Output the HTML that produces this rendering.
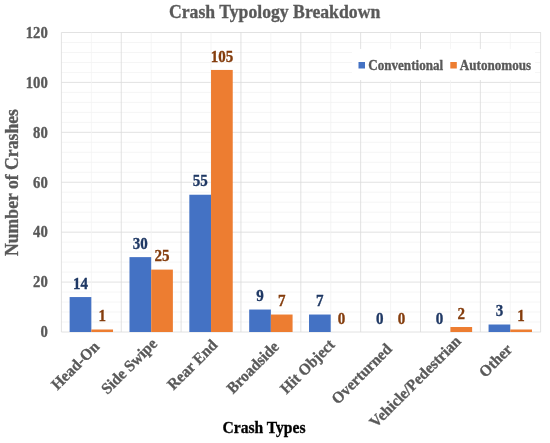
<!DOCTYPE html>
<html><head><meta charset="utf-8"><title>Crash Typology Breakdown</title>
<style>html,body{margin:0;padding:0;background:#fff}svg{display:block}</style></head>
<body>
<svg width="550" height="443" viewBox="0 0 550 443" font-family="'Liberation Serif', serif" font-weight="bold" stroke-width="0.3">
<rect width="550" height="443" fill="#fff"/>
<line x1="61.4" x2="540.9" y1="332.00" y2="332.00" stroke="#dbdbdb" stroke-width="0.8"/>
<line x1="61.4" x2="540.9" y1="322.02" y2="322.02" stroke="#f2f2f2" stroke-width="0.8"/>
<line x1="61.4" x2="540.9" y1="312.03" y2="312.03" stroke="#f2f2f2" stroke-width="0.8"/>
<line x1="61.4" x2="540.9" y1="302.05" y2="302.05" stroke="#f2f2f2" stroke-width="0.8"/>
<line x1="61.4" x2="540.9" y1="292.07" y2="292.07" stroke="#f2f2f2" stroke-width="0.8"/>
<line x1="61.4" x2="540.9" y1="282.08" y2="282.08" stroke="#dbdbdb" stroke-width="0.8"/>
<line x1="61.4" x2="540.9" y1="272.10" y2="272.10" stroke="#f2f2f2" stroke-width="0.8"/>
<line x1="61.4" x2="540.9" y1="262.12" y2="262.12" stroke="#f2f2f2" stroke-width="0.8"/>
<line x1="61.4" x2="540.9" y1="252.13" y2="252.13" stroke="#f2f2f2" stroke-width="0.8"/>
<line x1="61.4" x2="540.9" y1="242.15" y2="242.15" stroke="#f2f2f2" stroke-width="0.8"/>
<line x1="61.4" x2="540.9" y1="232.17" y2="232.17" stroke="#dbdbdb" stroke-width="0.8"/>
<line x1="61.4" x2="540.9" y1="222.18" y2="222.18" stroke="#f2f2f2" stroke-width="0.8"/>
<line x1="61.4" x2="540.9" y1="212.20" y2="212.20" stroke="#f2f2f2" stroke-width="0.8"/>
<line x1="61.4" x2="540.9" y1="202.22" y2="202.22" stroke="#f2f2f2" stroke-width="0.8"/>
<line x1="61.4" x2="540.9" y1="192.23" y2="192.23" stroke="#f2f2f2" stroke-width="0.8"/>
<line x1="61.4" x2="540.9" y1="182.25" y2="182.25" stroke="#dbdbdb" stroke-width="0.8"/>
<line x1="61.4" x2="540.9" y1="172.27" y2="172.27" stroke="#f2f2f2" stroke-width="0.8"/>
<line x1="61.4" x2="540.9" y1="162.28" y2="162.28" stroke="#f2f2f2" stroke-width="0.8"/>
<line x1="61.4" x2="540.9" y1="152.30" y2="152.30" stroke="#f2f2f2" stroke-width="0.8"/>
<line x1="61.4" x2="540.9" y1="142.32" y2="142.32" stroke="#f2f2f2" stroke-width="0.8"/>
<line x1="61.4" x2="540.9" y1="132.33" y2="132.33" stroke="#dbdbdb" stroke-width="0.8"/>
<line x1="61.4" x2="540.9" y1="122.35" y2="122.35" stroke="#f2f2f2" stroke-width="0.8"/>
<line x1="61.4" x2="540.9" y1="112.37" y2="112.37" stroke="#f2f2f2" stroke-width="0.8"/>
<line x1="61.4" x2="540.9" y1="102.38" y2="102.38" stroke="#f2f2f2" stroke-width="0.8"/>
<line x1="61.4" x2="540.9" y1="92.40" y2="92.40" stroke="#f2f2f2" stroke-width="0.8"/>
<line x1="61.4" x2="540.9" y1="82.42" y2="82.42" stroke="#dbdbdb" stroke-width="0.8"/>
<line x1="61.4" x2="540.9" y1="72.43" y2="72.43" stroke="#f2f2f2" stroke-width="0.8"/>
<line x1="61.4" x2="540.9" y1="62.45" y2="62.45" stroke="#f2f2f2" stroke-width="0.8"/>
<line x1="61.4" x2="540.9" y1="52.47" y2="52.47" stroke="#f2f2f2" stroke-width="0.8"/>
<line x1="61.4" x2="540.9" y1="42.48" y2="42.48" stroke="#f2f2f2" stroke-width="0.8"/>
<line x1="61.4" x2="540.9" y1="32.50" y2="32.50" stroke="#dbdbdb" stroke-width="0.8"/>
<line y1="32.5" y2="332.0" x1="61.40" x2="61.40" stroke="#dbdbdb" stroke-width="0.8"/>
<line y1="32.5" y2="332.0" x1="91.33" x2="91.33" stroke="#f2f2f2" stroke-width="0.8"/>
<line y1="32.5" y2="332.0" x1="121.25" x2="121.25" stroke="#dbdbdb" stroke-width="0.8"/>
<line y1="32.5" y2="332.0" x1="151.18" x2="151.18" stroke="#f2f2f2" stroke-width="0.8"/>
<line y1="32.5" y2="332.0" x1="181.10" x2="181.10" stroke="#dbdbdb" stroke-width="0.8"/>
<line y1="32.5" y2="332.0" x1="211.03" x2="211.03" stroke="#f2f2f2" stroke-width="0.8"/>
<line y1="32.5" y2="332.0" x1="240.95" x2="240.95" stroke="#dbdbdb" stroke-width="0.8"/>
<line y1="32.5" y2="332.0" x1="270.88" x2="270.88" stroke="#f2f2f2" stroke-width="0.8"/>
<line y1="32.5" y2="332.0" x1="300.80" x2="300.80" stroke="#dbdbdb" stroke-width="0.8"/>
<line y1="32.5" y2="332.0" x1="330.72" x2="330.72" stroke="#f2f2f2" stroke-width="0.8"/>
<line y1="32.5" y2="332.0" x1="360.65" x2="360.65" stroke="#dbdbdb" stroke-width="0.8"/>
<line y1="32.5" y2="332.0" x1="390.57" x2="390.57" stroke="#f2f2f2" stroke-width="0.8"/>
<line y1="32.5" y2="332.0" x1="420.50" x2="420.50" stroke="#dbdbdb" stroke-width="0.8"/>
<line y1="32.5" y2="332.0" x1="450.43" x2="450.43" stroke="#f2f2f2" stroke-width="0.8"/>
<line y1="32.5" y2="332.0" x1="480.35" x2="480.35" stroke="#dbdbdb" stroke-width="0.8"/>
<line y1="32.5" y2="332.0" x1="510.27" x2="510.27" stroke="#f2f2f2" stroke-width="0.8"/>
<line y1="32.5" y2="332.0" x1="540.60" x2="540.60" stroke="#dbdbdb" stroke-width="0.8"/>
<rect x="352" y="49" width="183" height="31" fill="#fff"/>
<rect x="69.62" y="297.06" width="21.7" height="34.94" fill="#4472c4"/>
<text transform="translate(80.48,288.76) scale(1.0,1.08)" font-size="15.0" fill="#1f3864" stroke="#1f3864" text-anchor="middle">14</text>
<rect x="91.33" y="329.50" width="21.7" height="2.50" fill="#ed7d31"/>
<text transform="translate(102.17,321.20) scale(1.0,1.08)" font-size="15.0" fill="#843c0c" stroke="#843c0c" text-anchor="middle">1</text>
<rect x="129.48" y="257.12" width="21.7" height="74.88" fill="#4472c4"/>
<text transform="translate(140.33,248.82) scale(1.0,1.08)" font-size="15.0" fill="#1f3864" stroke="#1f3864" text-anchor="middle">30</text>
<rect x="151.18" y="269.60" width="21.7" height="62.40" fill="#ed7d31"/>
<text transform="translate(162.03,261.30) scale(1.0,1.08)" font-size="15.0" fill="#843c0c" stroke="#843c0c" text-anchor="middle">25</text>
<rect x="189.33" y="194.73" width="21.7" height="137.27" fill="#4472c4"/>
<text transform="translate(200.18,186.43) scale(1.0,1.08)" font-size="15.0" fill="#1f3864" stroke="#1f3864" text-anchor="middle">55</text>
<rect x="211.03" y="69.94" width="21.7" height="262.06" fill="#ed7d31"/>
<text transform="translate(221.88,61.64) scale(1.0,1.08)" font-size="15.0" fill="#843c0c" stroke="#843c0c" text-anchor="middle">105</text>
<rect x="249.18" y="309.54" width="21.7" height="22.46" fill="#4472c4"/>
<text transform="translate(260.02,301.24) scale(1.0,1.08)" font-size="15.0" fill="#1f3864" stroke="#1f3864" text-anchor="middle">9</text>
<rect x="270.88" y="314.53" width="21.7" height="17.47" fill="#ed7d31"/>
<text transform="translate(281.73,306.23) scale(1.0,1.08)" font-size="15.0" fill="#843c0c" stroke="#843c0c" text-anchor="middle">7</text>
<rect x="309.02" y="314.53" width="21.7" height="17.47" fill="#4472c4"/>
<text transform="translate(319.87,306.23) scale(1.0,1.08)" font-size="15.0" fill="#1f3864" stroke="#1f3864" text-anchor="middle">7</text>
<text transform="translate(341.57,323.70) scale(1.0,1.08)" font-size="15.0" fill="#843c0c" stroke="#843c0c" text-anchor="middle">0</text>
<text transform="translate(379.72,323.70) scale(1.0,1.08)" font-size="15.0" fill="#1f3864" stroke="#1f3864" text-anchor="middle">0</text>
<text transform="translate(401.43,323.70) scale(1.0,1.08)" font-size="15.0" fill="#843c0c" stroke="#843c0c" text-anchor="middle">0</text>
<text transform="translate(439.57,323.70) scale(1.0,1.08)" font-size="15.0" fill="#1f3864" stroke="#1f3864" text-anchor="middle">0</text>
<rect x="450.43" y="327.01" width="21.7" height="4.99" fill="#ed7d31"/>
<text transform="translate(461.28,318.71) scale(1.0,1.08)" font-size="15.0" fill="#843c0c" stroke="#843c0c" text-anchor="middle">2</text>
<rect x="488.57" y="324.51" width="21.7" height="7.49" fill="#4472c4"/>
<text transform="translate(499.42,316.21) scale(1.0,1.08)" font-size="15.0" fill="#1f3864" stroke="#1f3864" text-anchor="middle">3</text>
<rect x="510.27" y="329.50" width="21.7" height="2.50" fill="#ed7d31"/>
<text transform="translate(521.12,321.20) scale(1.0,1.08)" font-size="15.0" fill="#843c0c" stroke="#843c0c" text-anchor="middle">1</text>
<text transform="translate(47.80,337.25) scale(1.0,1.08)" font-size="14.7" fill="#595959" stroke="#595959" text-anchor="end">0</text>
<text transform="translate(47.80,287.33) scale(1.0,1.08)" font-size="14.7" fill="#595959" stroke="#595959" text-anchor="end">20</text>
<text transform="translate(47.80,237.42) scale(1.0,1.08)" font-size="14.7" fill="#595959" stroke="#595959" text-anchor="end">40</text>
<text transform="translate(47.80,187.50) scale(1.0,1.08)" font-size="14.7" fill="#595959" stroke="#595959" text-anchor="end">60</text>
<text transform="translate(47.80,137.58) scale(1.0,1.08)" font-size="14.7" fill="#595959" stroke="#595959" text-anchor="end">80</text>
<text transform="translate(47.80,87.67) scale(1.0,1.08)" font-size="14.7" fill="#595959" stroke="#595959" text-anchor="end">100</text>
<text transform="translate(47.80,37.75) scale(1.0,1.08)" font-size="14.7" fill="#595959" stroke="#595959" text-anchor="end">120</text>
<text transform="translate(100.33,347.80) rotate(-45) scale(1.0,1.03)" font-size="15.4" fill="#595959" stroke="#595959" text-anchor="end">Head-On</text>
<text transform="translate(157.98,344.60) rotate(-45) scale(1.0,1.03)" font-size="15.4" fill="#595959" stroke="#595959" text-anchor="end">Side Swipe</text>
<text transform="translate(218.33,346.00) rotate(-45) scale(1.0,1.03)" font-size="15.4" fill="#595959" stroke="#595959" text-anchor="end">Rear End</text>
<text transform="translate(279.88,347.60) rotate(-45) scale(1.0,1.03)" font-size="15.4" fill="#595959" stroke="#595959" text-anchor="end">Broadside</text>
<text transform="translate(335.72,345.50) rotate(-45) scale(1.0,1.03)" font-size="15.4" fill="#595959" stroke="#595959" text-anchor="end">Hit Object</text>
<text transform="translate(392.88,350.00) rotate(-45) scale(1.0,1.03)" font-size="15.4" fill="#595959" stroke="#595959" text-anchor="end">Overturned</text>
<text transform="translate(461.93,342.30) rotate(-45) scale(1.0,1.03)" font-size="15.4" fill="#595959" stroke="#595959" text-anchor="end">Vehicle/Pedestrian</text>
<text transform="translate(513.07,350.40) rotate(-45) scale(1.0,1.03)" font-size="15.4" fill="#595959" stroke="#595959" text-anchor="end">Other</text>
<text transform="translate(274.60,17.80) scale(1.0,1.08)" font-size="17.7" fill="#595959" stroke="#595959" text-anchor="middle">Crash Typology Breakdown</text>
<text transform="translate(18.00,182.50) rotate(-90) scale(1.0,1.02)" font-size="17.7" fill="#595959" stroke="#595959" text-anchor="middle">Number of Crashes</text>
<text transform="translate(264.00,433.20) scale(1.0,1.08)" font-size="15.6" fill="#000" stroke="#000" text-anchor="middle">Crash Types</text>
<rect x="358.5" y="62" width="6.5" height="6.5" fill="#4472c4"/>
<text transform="translate(368.20,70.00) scale(1.0,1.04)" font-size="13.1" fill="#595959" stroke="#595959" text-anchor="start">Conventional</text>
<rect x="450.3" y="62" width="6.5" height="6.5" fill="#ed7d31"/>
<text transform="translate(459.80,70.00) scale(1.0,1.04)" font-size="13.1" fill="#595959" stroke="#595959" text-anchor="start">Autonomous</text>
</svg>
</body></html>
